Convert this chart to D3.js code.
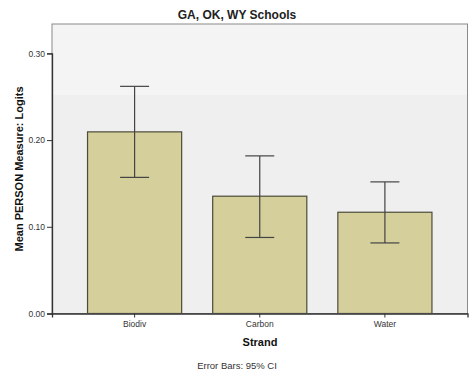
<!DOCTYPE html>
<html>
<head>
<meta charset="utf-8">
<script src="https://cdn.jsdelivr.net/npm/d3@7"></script>
<style>
  body { margin: 0; background: #fff; }
  text { font-family: Arial, "Liberation Sans", sans-serif; }
</style>
</head>
<body>
<div id="chart"></div>
<script>
var strands = ['Biodiv', 'Carbon', 'Water'];
var means = [0.2095, 0.1353, 0.1168];
var ciLow = [0.157, 0.0877, 0.0814];
var ciHigh = [0.262, 0.1818, 0.1518];
var yTicks = [0.00, 0.10, 0.20, 0.30];

var width = 474;
var height = 379;
var plotLeft = 52, plotRight = 467.5, plotTop = 24, plotBottom = 313.5;

var svg = d3.select('#chart').append('svg')
    .attr('width', width)
    .attr('height', height);

var x = d3.scaleBand()
    .domain(strands)
    .range([plotLeft, plotRight])
    .paddingInner(0.248)
    .paddingOuter(0.284);

var y = d3.scaleLinear()
    .domain([0, 0.30])
    .range([plotBottom, plotBottom - 3 * 86.7]);

// plot background
svg.append('rect')
    .attr('x', plotLeft).attr('y', plotTop)
    .attr('width', plotRight - plotLeft).attr('height', plotBottom - plotTop)
    .attr('fill', '#efefef');
svg.append('rect')
    .attr('x', plotLeft).attr('y', plotTop)
    .attr('width', plotRight - plotLeft).attr('height', 95 - plotTop)
    .attr('fill', '#f4f4f4');

// bars
svg.selectAll('rect.bar')
    .data(strands)
    .enter().append('rect')
    .attr('class', 'bar')
    .attr('x', function (d) { return x(d); })
    .attr('y', function (d, i) { return y(means[i]); })
    .attr('width', x.bandwidth())
    .attr('height', function (d, i) { return y(0) - y(means[i]); })
    .attr('fill', '#d5cf9b')
    .attr('stroke', '#4d4b3a')
    .attr('stroke-width', 1.2);

// error bars
var cap = 14.5;
strands.forEach(function (d, i) {
  var cx = x(d) + x.bandwidth() / 2;
  var g = svg.append('g').attr('stroke', '#444').attr('stroke-width', 1.2);
  g.append('line').attr('x1', cx).attr('x2', cx)
      .attr('y1', y(ciLow[i])).attr('y2', y(ciHigh[i]));
  g.append('line').attr('x1', cx - cap).attr('x2', cx + cap)
      .attr('y1', y(ciLow[i])).attr('y2', y(ciLow[i]));
  g.append('line').attr('x1', cx - cap).attr('x2', cx + cap)
      .attr('y1', y(ciHigh[i])).attr('y2', y(ciHigh[i]));
});

// frame
svg.append('rect')
    .attr('x', plotLeft).attr('y', plotTop)
    .attr('width', plotRight - plotLeft).attr('height', plotBottom - plotTop)
    .attr('fill', 'none')
    .attr('stroke', '#8a8a8a')
    .attr('stroke-width', 1);

// y axis
var yAxis = svg.append('g')
    .attr('transform', 'translate(' + plotLeft + ',0)')
    .call(d3.axisLeft(y).tickValues(yTicks).tickFormat(d3.format('.2f')).tickSize(5).tickPadding(2));
yAxis.select('.domain').attr('stroke', '#333').attr('stroke-width', 1.3);
yAxis.selectAll('.tick line').attr('stroke', '#333');
yAxis.selectAll('text').style('font-size', '8.5px').attr('fill', '#333')
    .style('font-family', 'Arial, "Liberation Sans", sans-serif');

// x axis
var xAxis = svg.append('g')
    .attr('transform', 'translate(0,' + plotBottom + ')')
    .call(d3.axisBottom(x).tickSize(4).tickPadding(3));
xAxis.select('.domain').attr('stroke', '#333').attr('stroke-width', 1.3);
xAxis.selectAll('.tick line').attr('stroke', '#333');
xAxis.selectAll('text').style('font-size', '8.5px').attr('fill', '#333')
    .style('font-family', 'Arial, "Liberation Sans", sans-serif');

// titles
svg.append('text')
    .attr('x', 237).attr('y', 19)
    .attr('text-anchor', 'middle')
    .style('font-size', '12px').style('font-weight', 'bold')
    .attr('fill', '#222')
    .text('GA, OK, WY Schools');

svg.append('text')
    .attr('transform', 'translate(23,169) rotate(-90)')
    .attr('text-anchor', 'middle')
    .style('font-size', '11px').style('font-weight', 'bold')
    .attr('fill', '#111')
    .text('Mean PERSON Measure: Logits');

svg.append('text')
    .attr('x', 260).attr('y', 346)
    .attr('text-anchor', 'middle')
    .style('font-size', '11px').style('font-weight', 'bold')
    .attr('fill', '#111')
    .text('Strand');

svg.append('text')
    .attr('x', 237).attr('y', 369)
    .attr('text-anchor', 'middle')
    .style('font-size', '9.5px')
    .attr('fill', '#333')
    .text('Error Bars: 95% CI');
</script>
</body>
</html>
